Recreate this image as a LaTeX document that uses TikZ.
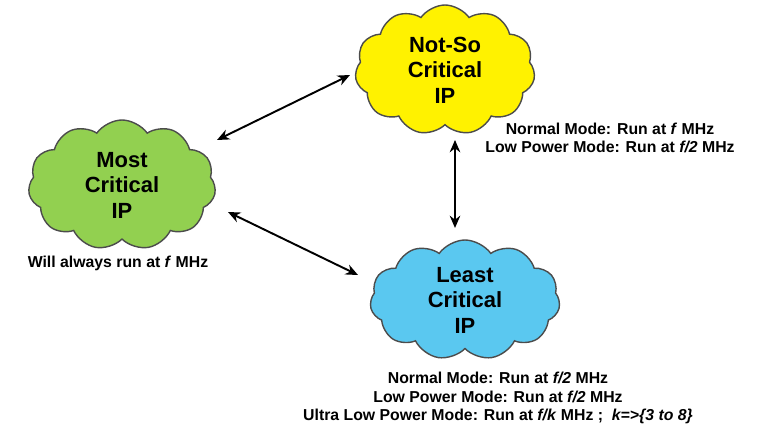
\documentclass[tikz,border=0pt]{standalone}
\usepackage{fontspec}
\setmainfont{Liberation Sans}
\usetikzlibrary{shapes.symbols,arrows.meta}
\begin{document}
\begin{tikzpicture}[x=0.02cm,y=-0.02cm,
  cl/.style={cloud,cloud puffs=11,cloud puff arc=110,cloud ignores aspect,draw=black!70,line width=0.8pt,align=center,font=\fontsize{12.5}{14.5}\selectfont\bfseries,inner sep=0pt},
  lab/.style={font=\fontsize{9}{10.5}\selectfont\bfseries},
  arr/.style={{Stealth[length=7pt,width=6pt]}-{Stealth[length=7pt,width=6pt]},line width=1.1pt}]
\useasboundingbox (0,0) rectangle (769,438);
\node[cl,fill={rgb,255:red,146;green,208;blue,80},minimum width=3.75cm,minimum height=2.6cm] (g) at (122,185) {Most\\Critical\\IP};
\node[cl,fill=yellow,minimum width=3.6cm,minimum height=2.6cm] (y) at (445,70) {Not-So\\Critical\\IP};
\node[cl,fill={rgb,255:red,90;green,200;blue,240},minimum width=3.8cm,minimum height=2.4cm] (b) at (465,300) {Least\\Critical\\IP};
\node[lab] (gl) at (118,263) {Will always run at \textit{f} MHz};
\node[lab,align=center] (yl) at (610,138) {Normal Mode: Run at \textit{f} MHz\\Low Power Mode: Run at \textit{f/2} MHz};
\node[lab,align=center] (bl) at (498,398) {Normal Mode: Run at \textit{f/2} MHz\\Low Power Mode: Run at \textit{f/2} MHz\\Ultra Low Power Mode: Run at \textit{f/k} MHz ;\ \ \textit{k=>\{3 to 8\}}};
\coordinate (a1) at (217,140); \coordinate (a2) at (350,75);
\coordinate (b1) at (228,212); \coordinate (b2) at (358,275);
\coordinate (c1) at (455,140); \coordinate (c2) at (455,228);
\draw[arr] (a1) -- (a2);
\draw[arr] (b1) -- (b2);
\draw[arr] (c1) -- (c2);
\end{tikzpicture}
\end{document}
